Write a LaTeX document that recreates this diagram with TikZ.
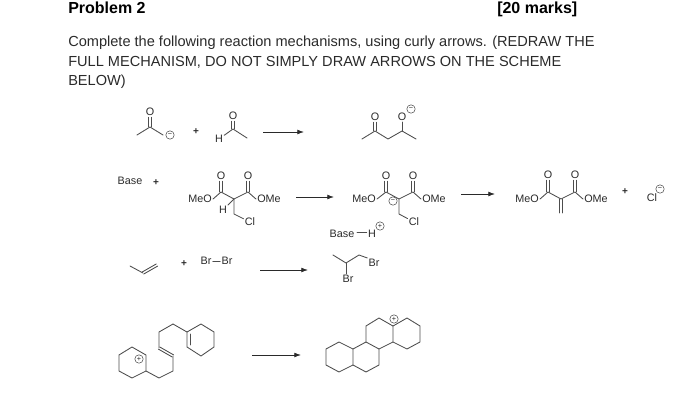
\documentclass[tikz,border=0pt]{standalone}
\usepackage{fontspec}
\setmainfont{Liberation Sans}
\usetikzlibrary{arrows.meta,calc}
\definecolor{ink}{HTML}{2A2A2A}
\definecolor{bondc}{HTML}{4D4D4D}
\tikzset{
  bond/.style={draw=bondc,line width=0.65pt,line cap=round,line join=round},
  rxn/.style={draw=ink,line width=0.6pt,-{Latex[length=5pt,width=3.6pt]}},
  atom/.style={font=\fontsize{8.1}{9}\selectfont,text=ink,inner sep=0.8pt},
  sym/.style={font=\fontsize{7.5}{9}\bfseries\selectfont,text=ink,inner sep=0pt},
  chg/.style={circle,draw=bondc,line width=0.4pt,minimum size=6.3pt,inner sep=0pt,font=\fontsize{5.5}{5.5}\selectfont,text=ink},
  head/.style={font=\fontsize{12}{14}\bfseries\selectfont,text=black,anchor=base west,inner sep=0pt},
  body/.style={font=\fontsize{10.93}{14}\selectfont,text=ink,anchor=base west,inner sep=0pt},
}
\newcommand{\vx}[2]{\coordinate (#1) at (#2);}
% double bond: two parallel lines from a vertex (#1) towards (#2), trimmed by #3 at the far end
\newcommand{\dblb}[3]{%
  \draw[bond,shorten >=#3] ($(#1)!0.95pt!90:(#2)$)--($(#2)!0.95pt!-90:(#1)$);
  \draw[bond,shorten >=#3] ($(#1)!0.95pt!-90:(#2)$)--($(#2)!0.95pt!90:(#1)$);}
\begin{document}
\begin{tikzpicture}[x=0.75pt,y=-0.75pt]
\useasboundingbox (0,0) rectangle (700,407);
% heading
\node[head] (t1) at (68,13) {Problem 2};
\node[head] (t2) at (497,13) {[20 marks]};
\node[body] (t3) at (68,46) {Complete the following reaction mechanisms, using curly arrows. (REDRAW THE};
\node[body] (t4) at (68,66) {FULL MECHANISM, DO NOT SIMPLY DRAW ARROWS ON THE SCHEME};
\node[body] (t5) at (68,85) {BELOW)};
% row 1: enolate
\vx{a1}{137,135}\vx{a2}{150,127}\vx{a3}{163,135}
\node[atom] (aO) at (150,112) {O};
\node[chg] (am) at (170,135) {−};
\draw[bond] (a1)--(a2)--(a3);
\dblb{a2}{aO}{4pt}
\node[sym] (p1) at (196,132) {+};
% aldehyde
\vx{b1}{233,129}\vx{b2}{247,138}
\node[atom] (bO) at (233,116) {O};
\node[atom] (bH) at (219,139) {H};
\draw[bond] (bH)--(b1)--(b2);
\dblb{b1}{bO}{4pt}
\vx{r1a}{263,132}\vx{r1b}{304,132}
\draw[rxn] (r1a)--(r1b);
% product 1
\vx{c1}{362,139}\vx{c2}{375,131}\vx{c3}{388,139}\vx{c4}{402,131}\vx{c5}{416,139}
\node[atom] (cO) at (375,117) {O};
\node[atom] (cP) at (402,117) {O};
\node[chg] (cm) at (411,109) {−};
\draw[bond] (c1)--(c2)--(c3)--(c4)--(c5);
\dblb{c2}{cO}{4pt}
\draw[bond] (c4)--(cP);
% row 2
\node[atom] (base1) at (130,181) {Base};
\node[sym] (p2) at (156,183) {+};
\node[atom] (dM) at (200,199) {MeO};
\node[atom] (dN) at (269,199) {OMe};
\node[atom] (dO1) at (221,176) {O};
\node[atom] (dO2) at (248,176) {O};
\node[atom] (dH) at (223,210) {H};
\node[atom] (dCl) at (250,222) {Cl};
\vx{d1}{221,192}\vx{d2}{234,199}\vx{d3}{248,192}\vx{d4}{234,214}
\draw[bond] (dM.east)--(d1)--(d2)--(d3)--(dN.west);
\dblb{d1}{dO1}{4pt}
\dblb{d3}{dO2}{4pt}
\draw[bond] (d2)--(d4)--(dCl);
\draw[bond] (d2)--(dH);
\vx{r2a}{296,197}\vx{r2b}{334,197}
\draw[rxn] (r2a)--(r2b);
% middle
\node[atom] (eM) at (364,199) {MeO};
\node[atom] (eN) at (434,199) {OMe};
\node[atom] (eO1) at (386,176) {O};
\node[atom] (eO2) at (413,176) {O};
\node[atom] (eCl) at (414,222) {Cl};
\node[chg] (em) at (393,201) {−};
\vx{e1}{386,192}\vx{e2}{399,199}\vx{e3}{413,192}\vx{e4}{399,214}
\draw[bond] (eM.east)--(e1)--(e2)--(e3)--(eN.west);
\dblb{e1}{eO1}{4pt}
\dblb{e3}{eO2}{4pt}
\draw[bond] (e2)--(e4)--(eCl);
\node[atom] (base2) at (342,234) {Base};
\node[atom] (bh) at (372,234) {H};
\node[chg] (bp) at (380,226) {+};
\draw[bond,shorten <=1pt] (base2.east |- 0,232)--(bh.west |- 0,232);
\vx{r3a}{461,194}\vx{r3b}{495,194}
\draw[rxn] (r3a)--(r3b);
% right
\node[atom] (fM) at (527,199) {MeO};
\node[atom] (fN) at (596,199) {OMe};
\node[atom] (fO1) at (548,175) {O};
\node[atom] (fO2) at (575,175) {O};
\vx{f1}{548,192}\vx{f2}{561,199}\vx{f3}{575,192}\vx{f4}{561,213}
\draw[bond] (fM.east)--(f1)--(f2)--(f3)--(fN.west);
\dblb{f1}{fO1}{4pt}
\dblb{f3}{fO2}{4pt}
\dblb{f2}{f4}{0pt}
\node[sym] (p3) at (625,192) {+};
\node[atom] (cl) at (652,198) {Cl};
\node[chg] (clm) at (660,189) {−};
% row 3
\vx{g1}{130,266}\vx{g2}{143,273}\vx{g3}{157,265}
\draw[bond] (g1)--(g2);
\dblb{g2}{g3}{0pt}
\node[sym] (p4) at (184,264) {+};
\node[atom] (br1) at (206,261) {Br};
\node[atom] (br2) at (227,261) {Br};
\draw[bond] (br1)--(br2);
\vx{r4a}{260,270}\vx{r4b}{308,270}
\draw[rxn] (r4a)--(r4b);
\vx{h1}{333,255}\vx{h2}{346,263}\vx{h3}{359,255}
\node[atom] (hb1) at (374,263) {Br};
\node[atom] (hb2) at (348,279) {Br};
\draw[bond] (h1)--(h2)--(h3)--(hb1.north west);
\draw[bond] (h2)--(h2 |- hb2.north);
% row 4: polyene
\vx{i1}{132,347}\vx{i2}{146,355}\vx{i3}{146,371}\vx{i4}{132,378}\vx{i5}{119,371}\vx{i6}{119,355}
\draw[bond] (i1)--(i2)--(i3)--(i4)--(i5)--(i6)--cycle;
\node[chg] (ip) at (139,359) {+};
\vx{j1}{159,378}\vx{j2}{173,371}\vx{j3}{173,356}\vx{j4}{159,348}\vx{j5}{159,332}\vx{j6}{173,324}
\draw[bond] (i3)--(j1)--(j2)--(j3);
\dblb{j3}{j4}{0pt}
\draw[bond] (j4)--(j5)--(j6);
\vx{k1}{187,332}\vx{k2}{201,324}\vx{k3}{214,332}\vx{k4}{214,347}\vx{k5}{201,356}\vx{k6}{187,347}
\draw[bond] (j6)--(k1);
\draw[bond] (k1)--(k2)--(k3)--(k4)--(k5)--(k6)--cycle;
\vx{k7}{190,334}\vx{k8}{190,345}
\draw[bond] (k7)--(k8);
\vx{r5a}{252,355}\vx{r5b}{301,355}
\draw[rxn] (r5a)--(r5b);
% polycycle
\vx{m1}{339,342}\vx{m2}{353,349}\vx{m3}{353,365}\vx{m4}{339,372}\vx{m5}{326,365}\vx{m6}{326,349}
\vx{n1}{366,342}\vx{n2}{379,349}\vx{n3}{379,365}\vx{n4}{366,372}
\vx{o1}{366,326}\vx{o2}{379,318}\vx{o3}{393,326}\vx{o4}{393,342}
\vx{q1}{407,318}\vx{q2}{420,326}\vx{q3}{420,342}\vx{q4}{407,349}
\draw[bond] (m1)--(m2)--(m3)--(m4)--(m5)--(m6)--cycle;
\draw[bond] (m2)--(n1)--(n2)--(n3)--(n4)--(m3);
\draw[bond] (n1)--(o1)--(o2)--(o3)--(o4)--(n2);
\draw[bond] (o3)--(q1)--(q2)--(q3)--(q4)--(o4);
\node[chg,fill=white] (op) at (394,319) {+};
\end{tikzpicture}
\end{document}
